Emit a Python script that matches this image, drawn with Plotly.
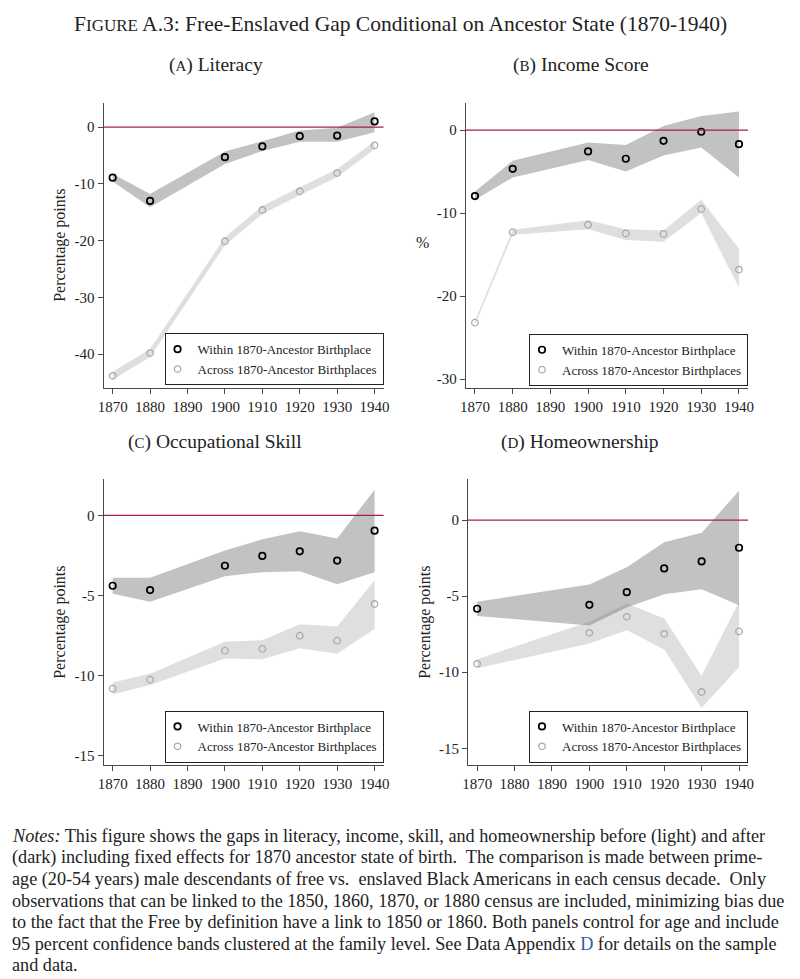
import plotly.graph_objects as go
from plotly.subplots import make_subplots

W, H = 800, 979
FONT = "Liberation Serif"

years = [1870, 1880, 1900, 1910, 1920, 1930, 1940]
years_home = [1870, 1900, 1910, 1920, 1930, 1940]
xticks = [1870, 1880, 1890, 1900, 1910, 1920, 1930, 1940]

# (A) Literacy
lit_within = [-8.9, -13.0, -5.3, -3.4, -1.6, -1.5, 1.0]
lit_within_hi = [-8.2, -11.8, -4.3, -2.5, -0.6, -0.1, 2.6]
lit_within_lo = [-9.6, -14.1, -6.5, -4.2, -2.6, -2.6, -0.9]
lit_across = [-43.8, -39.8, -20.1, -14.6, -11.3, -8.1, -3.2]
lit_across_hi = [-43.1, -39.1, -19.4, -13.9, -10.6, -7.4, -2.5]
lit_across_lo = [-44.5, -40.5, -20.8, -15.3, -12.0, -8.8, -3.9]

# (B) Income score
inc_within = [-7.95, -4.66, -2.57, -3.45, -1.29, -0.2, -1.69]
inc_within_hi = [-7.4, -3.7, -1.5, -1.8, 0.5, 1.7, 2.25]
inc_within_lo = [-8.4, -5.7, -3.6, -5.0, -3.05, -2.1, -5.7]
inc_across = [-23.2, -12.3, -11.4, -12.45, -12.5, -9.5, -16.8]
inc_across_hi = [-22.95, -12.0, -10.85, -11.95, -12.1, -8.4, -14.3]
inc_across_lo = [-23.45, -12.6, -11.95, -13.25, -13.45, -10.0, -19.0]

# (C) Occupational skill
occ_within = [-4.4, -4.67, -3.15, -2.54, -2.25, -2.83, -0.96]
occ_within_hi = [-3.9, -3.9, -2.2, -1.5, -1.0, -1.45, 1.6]
occ_within_lo = [-4.9, -5.4, -3.8, -3.55, -3.5, -4.3, -3.55]
occ_across = [-10.83, -10.27, -8.46, -8.35, -7.52, -7.83, -5.54]
occ_across_hi = [-10.45, -9.9, -7.9, -7.8, -6.8, -6.95, -4.05]
occ_across_lo = [-11.2, -10.6, -8.95, -9.0, -8.3, -8.65, -7.1]

# (D) Homeownership (no 1880 estimate)
home_within = [-5.83, -5.57, -4.74, -3.18, -2.72, -1.82]
home_within_hi = [-5.37, -4.23, -3.1, -1.45, -0.83, 1.93]
home_within_lo = [-6.3, -6.93, -5.75, -4.87, -4.54, -5.6]
home_across = [-9.45, -7.41, -6.36, -7.48, -11.3, -7.32]
home_across_hi = [-9.15, -6.69, -5.48, -6.47, -10.24, -5.37]
home_across_lo = [-9.74, -8.11, -7.24, -8.5, -12.35, -9.65]

DARK_BAND = "rgba(120,120,120,0.45)"
LIGHT_BAND = "rgba(185,185,185,0.45)"
AXIS = "#4a4a4a"
RED = "#a8203f"

panels = [
    # row, col, x, within, hi, lo, across, hi, lo, y range, y ticks, legend
    (1, 1, years, lit_within, lit_within_hi, lit_within_lo,
     lit_across, lit_across_hi, lit_across_lo, [-45.9, 4.3], [0, -10, -20, -30, -40], "legend"),
    (1, 2, years, inc_within, inc_within_hi, inc_within_lo,
     inc_across, inc_across_hi, inc_across_lo, [-31.1, 3.3], [0, -10, -20, -30], "legend2"),
    (2, 1, years, occ_within, occ_within_hi, occ_within_lo,
     occ_across, occ_across_hi, occ_across_lo, [-15.6, 2.25], [0, -5, -10, -15], "legend3"),
    (2, 2, years_home, home_within, home_within_hi, home_within_lo,
     home_across, home_across_hi, home_across_lo, [-16.1, 2.68], [0, -5, -10, -15], "legend4"),
]

# plot areas in pixels: (left, right, top, bottom)
boxes = {
    (1, 1): (99, 383.3, 102.7, 387.7),
    (1, 2): (466.7, 753.3, 102.7, 388.3),
    (2, 1): (99, 383.3, 479.3, 765),
    (2, 2): (469, 753.3, 479.3, 765),
}

fig = make_subplots(rows=2, cols=2)


def band(x, hi, lo, color, row, col):
    fig.add_trace(go.Scatter(
        x=list(x) + list(x)[::-1], y=list(hi) + list(lo)[::-1],
        fill="toself", fillcolor=color, mode="none",
        line=dict(width=0), showlegend=False, hoverinfo="skip",
    ), row=row, col=col)


for (row, col, x, w, whi, wlo, a, ahi, alo, yr, yt, leg) in panels:
    band(x, ahi, alo, LIGHT_BAND, row, col)
    band(x, whi, wlo, DARK_BAND, row, col)
    fig.add_hline(y=0, line_color=RED, line_width=1.3, row=row, col=col)
    fig.add_trace(go.Scatter(
        x=x, y=w, mode="markers", name="Within 1870-Ancestor Birthplace",
        marker=dict(symbol="circle-open", size=6.5, color="black", line=dict(width=1.7)),
        legend=leg,
    ), row=row, col=col)
    fig.add_trace(go.Scatter(
        x=x, y=a, mode="markers", name="Across 1870-Ancestor Birthplaces",
        marker=dict(symbol="circle-open", size=6.5, color="#a9a9a9", line=dict(width=1.3)),
        legend=leg,
    ), row=row, col=col)

    l, r, t, b = boxes[(row, col)]
    fig.update_xaxes(domain=[l / W, r / W], range=[1867.55, 1942.4],
                     tickvals=xticks, row=row, col=col)
    fig.update_yaxes(domain=[1 - b / H, 1 - t / H], range=yr, tickvals=yt,
                     ticktext=[str(v) for v in yt], row=row, col=col)
    fig.update_layout({leg: dict(
        x=r / W, xanchor="right", y=1 - (b - 2.5) / H, yanchor="bottom",
        bgcolor="white", bordercolor="#222", borderwidth=1,
        font=dict(family=FONT, size=13, color="#222"),
        itemwidth=30, indentation=-8, tracegroupgap=0,
    )})

fig.update_xaxes(showgrid=False, zeroline=False, showline=True, linecolor=AXIS,
                 linewidth=1, ticks="outside", ticklen=5, tickcolor=AXIS,
                 tickfont=dict(family=FONT, size=15, color="#222"))
fig.update_yaxes(showgrid=False, zeroline=False, showline=True, linecolor=AXIS,
                 linewidth=1, ticks="outside", ticklen=5, tickcolor=AXIS,
                 tickfont=dict(family=FONT, size=15, color="#222"))

for row, col in [(1, 1), (2, 1), (2, 2)]:
    fig.update_yaxes(title=dict(text="Percentage points", standoff=4,
                                font=dict(family=FONT, size=16, color="#222")),
                     row=row, col=col)

sc = "<span style='font-size:15px'>{}</span>"
annos = [
    dict(x=400, y=24, text="F" + "<span style='font-size:17px'>IGURE</span>"
         + " A.3: Free-Enslaved Gap Conditional on Ancestor State (1870-1940)",
         size=21.5),
    dict(x=213, y=65, text="(" + sc.format("A") + ") Literacy", size=19.5),
    dict(x=584, y=65, text="(" + sc.format("B") + ") Income Score", size=19.5),
    dict(x=212, y=442, text="(" + sc.format("C") + ") Occupational Skill", size=19.5),
    dict(x=583, y=442, text="(" + sc.format("D") + ") Homeownership", size=19.5),
    dict(x=423, y=243, text="%", size=16),
]
for a in annos:
    fig.add_annotation(x=a["x"] / W, y=1 - a["y"] / H, xref="paper", yref="paper",
                       text=a["text"], showarrow=False, xanchor="center",
                       yanchor="middle", font=dict(family=FONT, size=a["size"], color="#222"))

notes = [
    "<i>Notes:</i> This figure shows the gaps in literacy, income, skill, and homeownership before (light) and after",
    "(dark) including fixed effects for 1870 ancestor state of birth.  The comparison is made between prime-",
    "age (20-54 years) male descendants of free vs.  enslaved Black Americans in each census decade.  Only",
    "observations that can be linked to the 1850, 1860, 1870, or 1880 census are included, minimizing bias due",
    "to the fact that the Free by definition have a link to 1850 or 1860. Both panels control for age and include",
    "95 percent confidence bands clustered at the family level. See Data Appendix "
    "<span style='color:#2a5db0'>D</span> for details on the sample",
    "and data.",
]
for i, line in enumerate(notes):
    fig.add_annotation(x=4 / W, y=1 - (836 + i * 21.5) / H, xref="paper", yref="paper",
                       text=line, showarrow=False, xanchor="left", yanchor="middle",
                       font=dict(family=FONT, size=18.2, color="#222"))

fig.update_layout(
    width=W, height=H, margin=dict(l=0, r=0, t=0, b=0),
    paper_bgcolor="white", plot_bgcolor="white",
    font=dict(family=FONT, color="#222"),
)

# the page's default 8px body margin would shift everything
fig.write_html("out.html", config={"displayModeBar": False},
               post_script="document.body.style.margin='0';")
